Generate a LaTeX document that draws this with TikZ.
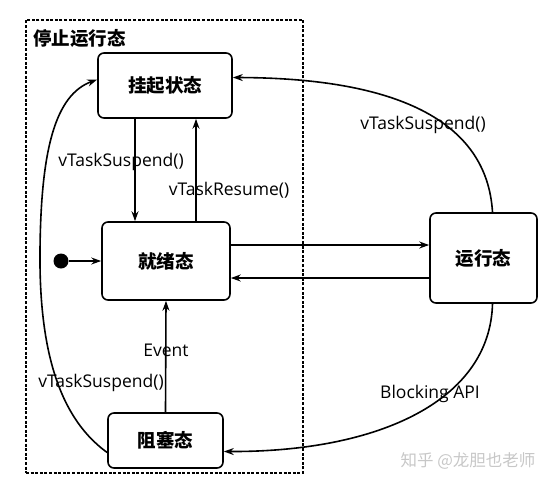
\documentclass[tikz,border=0pt]{standalone}
\usepackage{fontspec}
\setmainfont{Open Sans}
\newfontfamily\cjk{Noto Sans CJK SC}
\usetikzlibrary{arrows.meta}
\begin{document}
\begin{tikzpicture}[x=1pt,y=-1pt,
  state/.style={draw, line width=1.6pt, rounded corners=6pt, font=\cjk\bfseries\fontsize{18.5}{21}\selectfont, inner sep=0pt},
  arr/.style={line width=1.6pt, -{Stealth[length=10pt,width=7pt]}},
  lab/.style={font=\fontsize{17.5}{20}\selectfont, inner sep=1pt},
  stopbox/.style={draw, line width=2pt, dash pattern=on 3pt off 1.6pt, inner sep=0pt}
]
\useasboundingbox (0,0) rectangle (549,483);
\node[stopbox, minimum width=277pt, minimum height=453pt] (stop) at (164.5,246.5) {};
\node[anchor=north west, font=\cjk\bfseries\fontsize{18.5}{21}\selectfont, inner sep=0pt] (stoplab) at (33,29) {停止运行态};

\node[state, minimum width=134pt, minimum height=65pt] (gq) at (165,85.5) {挂起状态};
\node[state, minimum width=128pt, minimum height=78pt] (jx) at (166,261) {就绪态};
\node[state, minimum width=115pt, minimum height=55pt] (zs) at (165.5,440.5) {阻塞态};
\node[state, minimum width=107pt, minimum height=90pt] (yx) at (483.5,258) {运行态};

\node[circle, fill, minimum size=15pt, inner sep=0pt] (init) at (61,261) {};
\draw[arr] (init) -- (jx.west);

\draw[arr] ([xshift=-30pt]gq.south) -- ([xshift=-30pt]gq.south |- jx.north);
\draw[arr] ([xshift=31pt]gq.south |- jx.north) -- ([xshift=31pt]gq.south);
\node[lab] (l1) at (121,162) {vTaskSuspend()};
\node[lab] (l2) at (229,190) {vTaskResume()};

\draw[arr, line width=2pt] ([yshift=16pt]jx.east) -- ([yshift=16pt]jx.east -| yx.west);
\draw[arr, line width=2pt] ([yshift=-17pt]jx.east -| yx.west) -- ([yshift=-17pt]jx.east);

\draw[arr] (zs.north) -- (jx.south);
\node[lab] (l3) at (166,350) {Event};

\draw[arr] ([yshift=-12pt]zs.west) .. controls (55,415) and (39,340) .. (40,250) .. controls (41,150) and (55,95) .. ([yshift=6pt]gq.west);
\node[lab] (l4) at (101,383) {vTaskSuspend()};

\draw[arr] ([xshift=9pt]yx.north) .. controls (487,120) and (395,78) .. ([yshift=8pt]gq.east);
\node[lab] (l5) at (423,125) {vTaskSuspend()};

\draw[arr] ([xshift=9pt]yx.south) .. controls (490,400) and (380,452) .. ([yshift=-11pt]zs.east);
\node[lab] (l6) at (430,394) {Blocking API};

\node[font=\cjk\fontsize{16.5}{19}\selectfont, text=black!22, inner sep=0pt] (wm) at (468,461) {知乎 @龙胆也老师};
\end{tikzpicture}
\end{document}
